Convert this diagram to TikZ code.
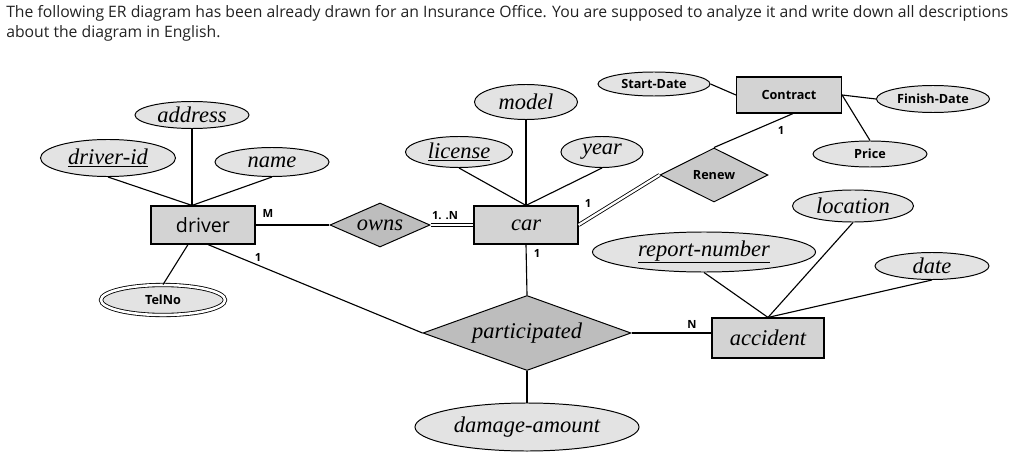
\documentclass[tikz,border=0pt]{standalone}
\usepackage{fontspec}
\setmainfont{Liberation Serif}
\setsansfont{Open Sans}
\usetikzlibrary{shapes.geometric,calc}

\tikzset{
  entity/.style={draw, line width=0.8pt, fill=colEnt, inner sep=0pt},
  attrib/.style={draw, line width=0.7pt, ellipse, fill=colAttr, inner sep=0pt},
  relship/.style={draw, line width=0.7pt, diamond, fill=colRel, inner sep=0pt},
  link/.style={line width=0.8pt},
  dlink/.style={double, double distance=1.6pt, line width=0.6pt},
  card/.style={font=\sffamily\bfseries\fontsize{8}{9}\selectfont},
  itl/.style={font=\itshape\fontsize{16}{18}\selectfont},
  bsf/.style={font=\sffamily\bfseries\fontsize{9}{10}\selectfont},
}

\begin{document}
\begin{tikzpicture}[x=0.025cm, y=-0.025cm]

% Grigi
\definecolor{colAttr}{HTML}{E3E3E3}
\definecolor{colEnt}{HTML}{D3D3D3}
\definecolor{colRel}{HTML}{BDBDBD}
\definecolor{colRenew}{HTML}{C9C9C9}
\definecolor{colText}{HTML}{222222}

\useasboundingbox (0,0) rectangle (1018,459);

% Testo della consegna
\node[anchor=north west, align=left, text=colText, inner sep=0pt,
  font=\sffamily\fontsize{11.2}{14.4}\selectfont] (task) at (6,5)
  {The following ER diagram has been already drawn for an Insurance Office. You are supposed to analyze it and write down all descriptions\\
   about the diagram in English.};

% Entita
\node[entity, minimum width=2.6cm, minimum height=0.95cm,
  font=\sffamily\fontsize{14}{16}\selectfont] (driver) at (203,225) {driver};
\node[entity, itl, minimum width=2.6cm, minimum height=0.95cm] (car) at (526,225) {car};
\node[entity, bsf, minimum width=2.625cm, minimum height=0.9cm] (contract) at (789,95) {Contract};
\node[entity, itl, minimum width=2.8cm, minimum height=1.0cm] (accident) at (768,338) {accident};

% Relazioni
\node[relship, itl, shape aspect=2.3, minimum width=2.5cm, minimum height=1.1cm] (owns) at (380,225) {owns};
\node[relship, bsf, shape aspect=2, fill=colRenew, minimum width=2.7cm, minimum height=1.35cm] (renew) at (714,175) {Renew};
\node[relship, itl, shape aspect=2.8, minimum width=5.2cm, minimum height=1.875cm] (part) at (527,333) {participated};

% Attributi
\node[attrib, itl, minimum width=2.85cm, minimum height=0.675cm] (address) at (192,115) {address};
\node[attrib, itl, minimum width=3.375cm, minimum height=0.925cm] (drvid) at (108,158) {\underline{driver-id}};
\node[attrib, itl, minimum width=2.85cm, minimum height=0.725cm] (name) at (272,162) {name};
\node[attrib, bsf, double, double distance=1.8pt, line width=0.6pt,
  minimum width=3.1cm, minimum height=0.75cm] (telno) at (163,300) {TelNo};
\node[attrib, itl, minimum width=2.575cm, minimum height=0.875cm] (model) at (526,102) {model};
\node[attrib, itl, minimum width=2.675cm, minimum height=0.775cm] (license) at (459,152) {\underline{license}};
\node[attrib, itl, minimum width=2.05cm, minimum height=0.775cm] (year) at (602,152) {year};
\node[attrib, bsf, minimum width=2.8cm, minimum height=0.6cm] (startd) at (654,84) {Start-Date};
\node[attrib, bsf, minimum width=2.825cm, minimum height=0.675cm] (finishd) at (933,99) {Finish-Date};
\node[attrib, bsf, minimum width=2.85cm, minimum height=0.65cm] (price) at (870,154) {Price};
\node[attrib, itl, minimum width=3.025cm, minimum height=0.8cm] (location) at (853,206) {location};
\node[attrib, itl, minimum width=2.85cm, minimum height=0.675cm] (date) at (932,266) {date};
\node[attrib, itl, minimum width=5.575cm, minimum height=1.0cm] (repnum) at (704,252) {\underline{report-number}};
\node[attrib, itl, minimum width=5.6cm, minimum height=1.2cm] (damage) at (527,427) {damage-amount};

% Collegamenti attributi
\draw[link] (address) -- (address |- driver.north);
\draw[link] (drvid.south) -- (address |- driver.north);
\draw[link] (name.south) -- (address |- driver.north);
\draw[link] ($(driver.south)+(-15,0)$) -- (telno.north);
\draw[link] (model) -- (car.north);
\draw[link] (license.south) -- (car.north);
\draw[link] (year.south) -- (car.north);
\draw[link] (startd.east) -- (contract.west);
\draw[link] (contract.east) -- (finishd.west);
\draw[link] (contract.east) -- (price.north);
\draw[link] (repnum.south) -- (accident.north);
\draw[link] (location.south) -- (accident.north);
\draw[link] (date.south) -- (accident.north);
\draw[link] (part) -- (damage);

% Collegamenti relazioni
\draw[link] (driver.east) -- (owns.west);
\draw[dlink] (owns.east) -- (car.west);
\draw[dlink] (car.east) -- (renew.west);
\draw[link] (renew.north) -- ($(contract.south)+(4,0)$);
\draw[link] ($(driver.south)+(5,0)$) -- (part.west);
\draw[link] (car.south) -- (part.north);
\draw[link] (part.east) -- (part.east -| accident.west);

% Cardinalita
\node[card] (cM) at (268,213) {M};
\node[card] (cN1) at (445,216) {1. .N};
\node[card] (cCarR) at (588,203) {1};
\node[card] (cCon) at (781,130) {1};
\node[card] (cDrv) at (258,257) {1};
\node[card] (cCarP) at (537,253) {1};
\node[card] (cAcc) at (692,324) {N};

\end{tikzpicture}
\end{document}
